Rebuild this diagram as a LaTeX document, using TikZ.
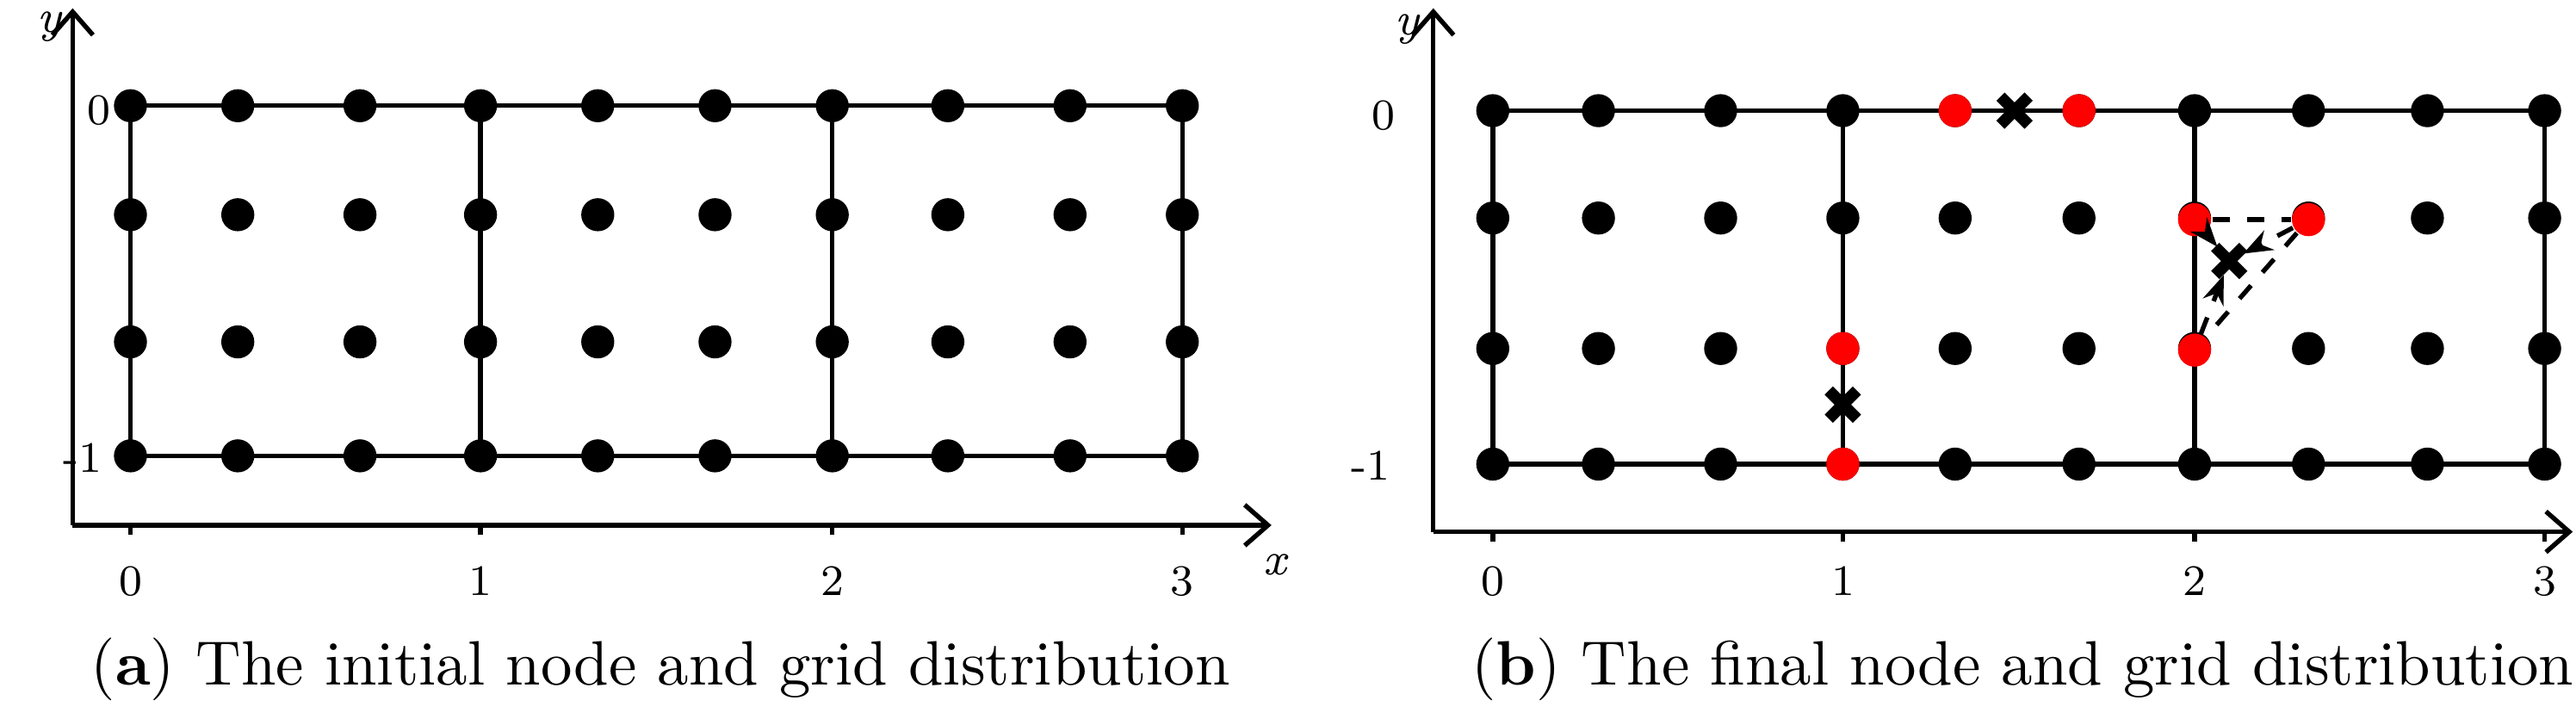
\documentclass[tikz,border=0pt]{standalone}
\usetikzlibrary{arrows.meta,shapes.misc}
\begin{document}
\begin{tikzpicture}[x=0.01cm,y=-0.01cm,
  dot/.style={circle,fill=black,inner sep=0pt,minimum size=0.2cm},
  rdot/.style={circle,fill=red,inner sep=0pt,minimum size=0.2cm},
  crossmk/.style={cross out,draw=black,line width=2pt,inner sep=0pt,minimum size=0.1cm},
  axline/.style={line width=0.8pt,-{Straight Barb[length=4pt,width=7pt]}},
  gridln/.style={line width=0.8pt},
  lab/.style={font=\fontsize{7.5}{9}\selectfont,inner sep=1pt},
  captxt/.style={font=\fontsize{10.8}{13}\selectfont}]
\useasboundingbox (0,0) rectangle (1560,435);
% ---------- panel a ----------
\draw[axline] (44,318) -- (44,5);
\draw[axline] (44,318) -- (770,318);
\node[lab,font=\itshape\fontsize{8}{9}\selectfont] (ya) at (30,16) {y};
\node[lab,font=\itshape\fontsize{8}{9}\selectfont] (xa) at (772,342) {x};
\node[lab] (a0) at (60,67) {0};
\node[lab] (a1) at (50,277) {-1};
\foreach \x/\t in {79/0,291/1,504/2,716/3}{
  \draw[line width=0.8pt] (\x,318) -- (\x,324);
  \node[lab] at (\x,352) {\t};}
\draw[gridln] (79,64) rectangle (716,276);
\draw[gridln] (291,64) -- (291,276) (504,64) -- (504,276);
\foreach \y in {64,130,207,276}{
  \foreach \x in {79,144,218,291,362,433,504,574,648,716}{
    \node[dot] at (\x,\y) {};}}
\node[captxt] (capa) at (400,405) {(\textbf{a}) The initial node and grid distribution};
% ---------- panel b ----------
\draw[axline] (868,322) -- (868,5);
\draw[axline] (868,322) -- (1558,322);
\node[lab,font=\itshape\fontsize{8}{9}\selectfont] (yb) at (852,18) {y};
\node[lab] (b0) at (838,70) {0};
\node[lab] (b1) at (830,282) {-1};
\foreach \x/\t in {904/0,1116/1,1329/2,1541/3}{
  \draw[line width=0.8pt] (\x,322) -- (\x,328);
  \node[lab] at (\x,352) {\t};}
\draw[gridln] (904,67) rectangle (1541,281);
\draw[gridln] (1116,67) -- (1116,281) (1329,67) -- (1329,281);
\foreach \y in {67,132,211,281}{
  \foreach \x in {904,968,1042,1116,1184,1259,1329,1398,1470,1541}{
    \node[dot] at (\x,\y) {};}}
% red nodes
\node[rdot] (r1) at (1184,67) {};
\node[rdot] (r2) at (1259,67) {};
\node[rdot] (r3) at (1116,211) {};
\node[rdot] (r4) at (1116,281) {};
\node[rdot] (r5) at (1329,133) {};
\node[rdot] (r6) at (1398,133) {};
\node[rdot] (r7) at (1329,212) {};
% crosses
\node[crossmk] (c1) at (1220,67) {};
\node[crossmk] (c2) at (1116,245) {};
\node[crossmk] (c3) at (1350,158) {};
\draw[dashed,line width=0.8pt] (r5) -- (r6);
\draw[dashed,line width=0.8pt] (r6) -- (r7);
\draw[dashed,line width=0.8pt,-{Stealth[length=5pt]}] (r5) -- (c3);
\draw[dashed,line width=0.8pt,-{Stealth[length=5pt]}] (r6) -- (c3);
\draw[dashed,line width=0.8pt,-{Stealth[length=5pt]}] (r7) -- (c3);
\node[captxt] (capb) at (1225,405) {(\textbf{b}) The final node and grid distribution};
\end{tikzpicture}
\end{document}
